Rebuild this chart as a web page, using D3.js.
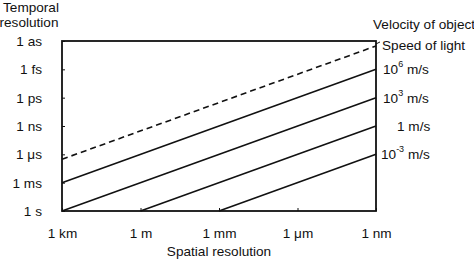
<!DOCTYPE html>
<html><head><meta charset="utf-8">
<script src="https://cdn.jsdelivr.net/npm/d3@7"></script>
<style>body{margin:0;background:#fff}svg{display:block}text{font-family:"Liberation Sans",Arial,sans-serif;fill:#111}</style>
</head><body><svg id="c" width="474" height="260"></svg>
<script>
// log10 of spatial resolution (m)
const spaceTicks = [3, 0, -3, -6, -9];
const spaceLabels = ["1 km", "1 m", "1 mm", "1 μm", "1 nm"];
// log10 of temporal resolution (s)
const timeTicks = [0, -3, -6, -9, -12, -15, -18];
const timeLabels = ["1 s", "1 ms", "1 μs", "1 ns", "1 ps", "1 fs", "1 as"];
// velocities (m/s), log10
const velocityNames = ["Speed of light", "10^6 m/s", "10^3 m/s", "1 m/s", "10^-3 m/s"];
const velocityLog = [Math.log10(3e8), 6, 3, 0, -3];
const velocityDashed = [true, false, false, false, false];

const FS = 13.6;
const svg = d3.select("#c");
const L = 62, R = 376, T = 41, B = 211;
const x = d3.scaleLinear().domain([3, -9]).range([L, R]);
const y = d3.scaleLinear().domain([0, -18]).range([B, T]);

// axes (ticks inward)
const yAxis = d3.axisLeft(y).tickValues(timeTicks).tickFormat((d,i)=>timeLabels[i]).tickSize(-3).tickPadding(20);
const gy = svg.append("g").attr("transform", `translate(${L},0)`).call(yAxis);
const xAxis = d3.axisBottom(x).tickValues(spaceTicks).tickFormat((d,i)=>spaceLabels[i]).tickSize(-3).tickPadding(17);
const gx = svg.append("g").attr("transform", `translate(0,${B})`).call(xAxis);
[gy, gx].forEach(g => {
  g.select(".domain").remove();
  g.selectAll(".tick line").attr("stroke", "#111").attr("stroke-width", 1);
  g.selectAll(".tick text").attr("font-size", FS).attr("fill", "#111")
   .style("font-family", "Liberation Sans, Arial, sans-serif");
});

// frame
svg.append("rect").attr("x", L).attr("y", T).attr("width", R - L).attr("height", B - T)
  .attr("fill", "none").attr("stroke", "#111").attr("stroke-width", 1.8);

// velocity lines: log t = log x - log v, clipped to t <= 1 s
velocityLog.forEach((lv, i) => {
  const xs = 3, xe = -9;
  let x0 = Math.min(xs, 0 + lv);
  const p0 = [x0, x0 - lv], p1 = [xe, xe - lv];
  svg.append("line")
    .attr("x1", x(p0[0])).attr("y1", y(p0[1]))
    .attr("x2", x(p1[0])).attr("y2", y(p1[1]))
    .attr("stroke", "#111").attr("stroke-width", 1.6)
    .attr("stroke-dasharray", velocityDashed[i] ? "6,4" : null);
});

// right labels
const lblY = velocityLog.map(lv => y(-9 - lv));
const lblX = [382, 383, 383, 397, 381];
velocityNames.forEach((n, i) => {
  const t = svg.append("text").attr("x", lblX[i]).attr("y", lblY[i] + (i === 0 ? 0 : 1)).attr("font-size", FS)
    .attr("dominant-baseline", "middle");
  const m = n.match(/^10\^(-?\d+)(.*)$/);
  if (m) {
    t.append("tspan").text("10");
    t.append("tspan").attr("font-size", 9).attr("dy", -5).text(m[1]);
    t.append("tspan").attr("dy", 5).text(m[2]);
  } else t.text(n);
});
// leader for speed of light
svg.append("line").attr("x1", R).attr("x2", R + 4).attr("y1", lblY[0] - 2).attr("y2", lblY[0] - 4)
  .attr("stroke", "#111").attr("stroke-width", 1);

svg.append("text").attr("x", 373).attr("y", 25).attr("font-size", FS).attr("dominant-baseline", "middle").text("Velocity of object");
svg.append("text").attr("x", 31).attr("y", 8).attr("font-size", FS).attr("text-anchor", "middle").attr("dominant-baseline", "middle").text("Temporal");
svg.append("text").attr("x", 29).attr("y", 23).attr("font-size", FS).attr("text-anchor", "middle").attr("dominant-baseline", "middle").text("resolution");
svg.append("text").attr("x", (L + R) / 2).attr("y", 252).attr("font-size", FS).attr("text-anchor", "middle").attr("dominant-baseline", "middle").text("Spatial resolution");
</script></body></html>
